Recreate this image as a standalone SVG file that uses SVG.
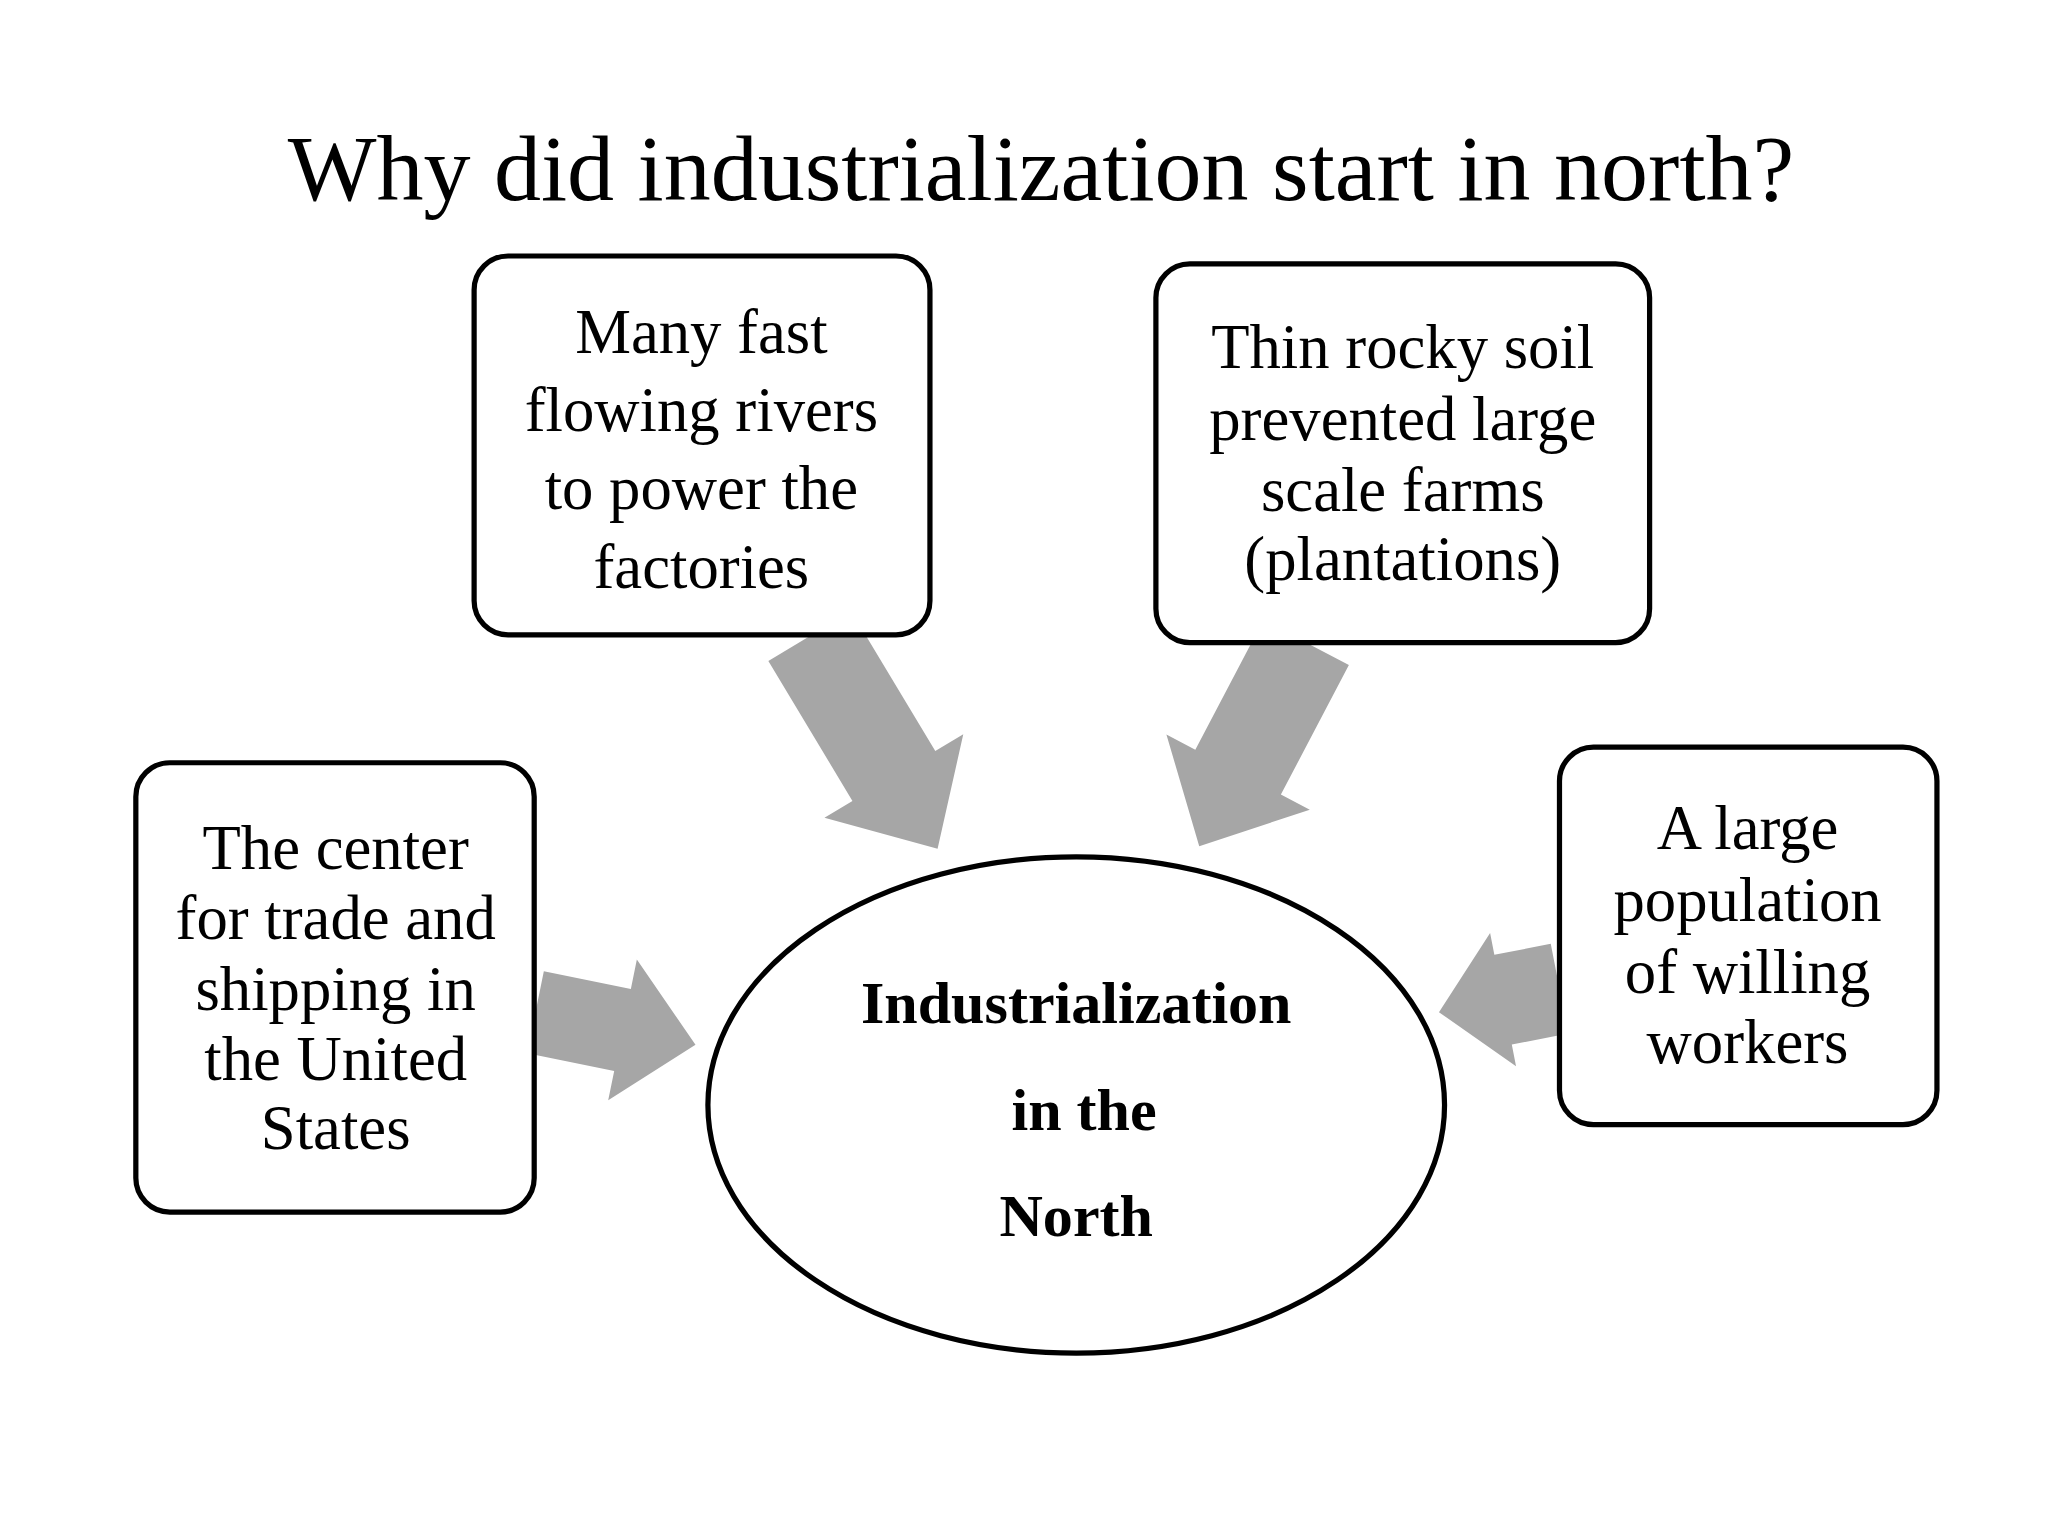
<svg xmlns="http://www.w3.org/2000/svg" width="2048" height="1536" viewBox="0 0 2048 1536">
<style>
.box{fill:#fff;stroke:#000;stroke-width:4}
.t{font-family:"Liberation Serif",serif;font-size:48px;text-anchor:middle;fill:#000}
.b{font-family:"Liberation Serif",serif;font-size:46px;font-weight:bold;text-anchor:middle;fill:#000}
.arr{fill:#a6a6a6}
</style>
<rect width="2048" height="1536" fill="#fff"/>
<g transform="scale(1.3061)">
<text x="797" y="153" font-family="Liberation Serif, serif" font-size="72" text-anchor="middle">Why did industrialization start in north?</text>
<g id="connectors">
<polygon class="arr" transform="translate(620,487) rotate(59)" points="0,-37 125,-37 125,-62 190,0 125,62 125,37 0,37"/>
<polygon class="arr" transform="translate(1000,492) rotate(117.7)" points="0,-37 112,-37 112,-62 176,0 112,62 112,37 0,37"/>
<polygon class="arr" transform="translate(410,775) rotate(11.5)" points="0,-32 68,-32 68,-55 125,0 68,55 68,32 0,32"/>
<polygon class="arr" transform="translate(1194,757) rotate(169)" points="0,-35 44,-35 44,-52 94,0 44,52 44,35 0,35"/>
</g>
<g id="n1"><rect class="box" x="363" y="196" width="349" height="290" rx="26"/>
<text class="t" x="537" y="270">Many fast</text><text class="t" x="537" y="330">flowing rivers</text><text class="t" x="537" y="390">to power the</text><text class="t" x="537" y="450">factories</text></g>
<g id="n2"><rect class="box" x="885" y="202" width="378" height="290" rx="26"/>
<text class="t" x="1074" y="282">Thin rocky soil</text><text class="t" x="1074" y="337">prevented large</text><text class="t" x="1074" y="391">scale farms</text><text class="t" x="1074" y="444">(plantations)</text></g>
<g id="n3"><rect class="box" x="104" y="584" width="305" height="344" rx="26"/>
<text class="t" x="257" y="665">The center</text><text class="t" x="257" y="719">for trade and</text><text class="t" x="257" y="773">shipping in</text><text class="t" x="257" y="827">the United</text><text class="t" x="257" y="880">States</text></g>
<g id="n4"><rect class="box" x="1194" y="572" width="289" height="289" rx="26"/>
<text class="t" x="1338" y="650">A large</text><text class="t" x="1338" y="705">population</text><text class="t" x="1338" y="760">of willing</text><text class="t" x="1338" y="814">workers</text></g>
<g id="center"><ellipse class="box" cx="824" cy="846" rx="282" ry="190"/>
<text class="b" x="824" y="783">Industrialization</text><text class="b" x="830" y="865">in the</text><text class="b" x="824" y="946">North</text></g>
</g>
</svg>
